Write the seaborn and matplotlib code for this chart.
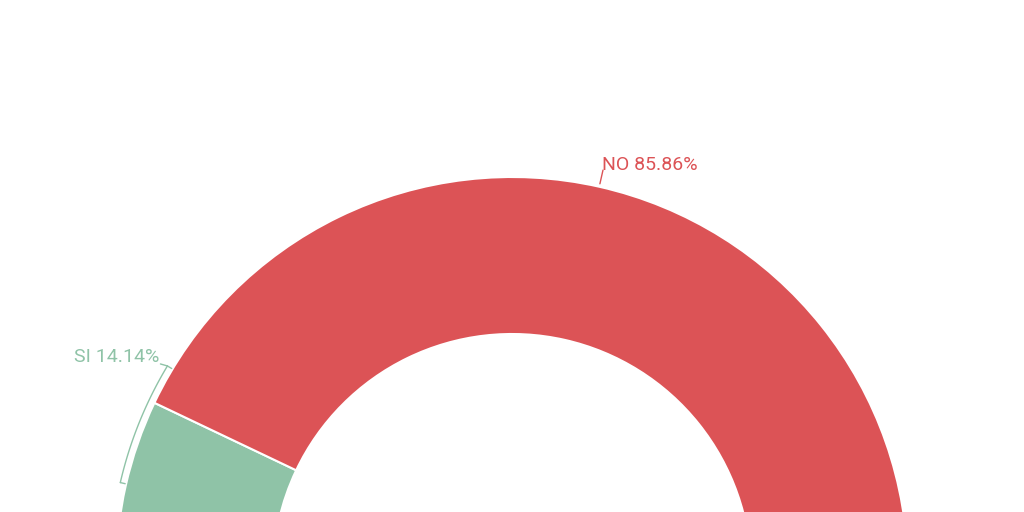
import numpy as np
import matplotlib
matplotlib.use("Agg")
import matplotlib.pyplot as plt
import seaborn as sns

labels = ["SI", "NO"]
values = [14.14, 85.86]
colors = ["#8FC3A7", "#DC5356"]

sns.set_theme(style="white")
plt.rcParams['font.family'] = ['Roboto', 'DejaVu Sans']

fig = plt.figure(figsize=(10.24, 5.12), dpi=100)
ax = fig.add_axes([0, 0, 1, 1])

cx, cy = 512, -61  # centro del donut (debajo del borde inferior)
R, W = 396, 157

# medio donut: la otra mitad es invisible
wedges, _ = ax.pie(values + [sum(values)], colors=colors + ["none"], startangle=180,
                   counterclock=False, radius=R, center=(cx, cy),
                   wedgeprops=dict(width=W, edgecolor="white", linewidth=1.5))
wedges[-1].set_visible(False)

total = sum(values) * 2
ang = 180.0
mids = []
for v in values:
    span = v / total * 360
    mids.append(ang - span / 2)
    ang -= span

# etiqueta NO: linea corta radial en el centro del sector
a = np.radians(mids[1])
x0, y0 = cx + (R + 3) * np.cos(a), cy + (R + 3) * np.sin(a)
x1, y1 = cx + (R + 17) * np.cos(a), cy + (R + 17) * np.sin(a)
ax.plot([x0, x1], [y0, y1], color=colors[1], lw=1)
ax.text(x1 - 1, y1 + 0.5, f"{labels[1]} {values[1]:.2f}%", color=colors[1],
        fontsize=14, ha="left", va="baseline")

# etiqueta SI: corchete en arco por fuera del sector
rb = R + 6
t = np.radians(np.linspace(149, 167, 60))
ax.plot(cx + rb * np.cos(t), cy + rb * np.sin(t), color=colors[0], lw=1)
for deg in (149, 167):
    tt = np.radians(deg)
    ax.plot([cx + rb * np.cos(tt), cx + (rb - 5) * np.cos(tt)],
            [cy + rb * np.sin(tt), cy + (rb - 5) * np.sin(tt)], color=colors[0], lw=1)
tt = np.radians(149)
xt, yt = cx + rb * np.cos(tt), cy + rb * np.sin(tt)
ax.plot([xt, xt - 7], [yt, yt + 2], color=colors[0], lw=1)
ax.text(xt - 8, yt + 3.5, f"{labels[0]} {values[0]:.2f}%", color=colors[0],
        fontsize=14, ha="right", va="baseline")

ax.set_xlim(0, 1024)
ax.set_ylim(0, 512)
ax.set_aspect("equal")
ax.axis("off")

fig.savefig("out.png", dpi=100, facecolor="white")
